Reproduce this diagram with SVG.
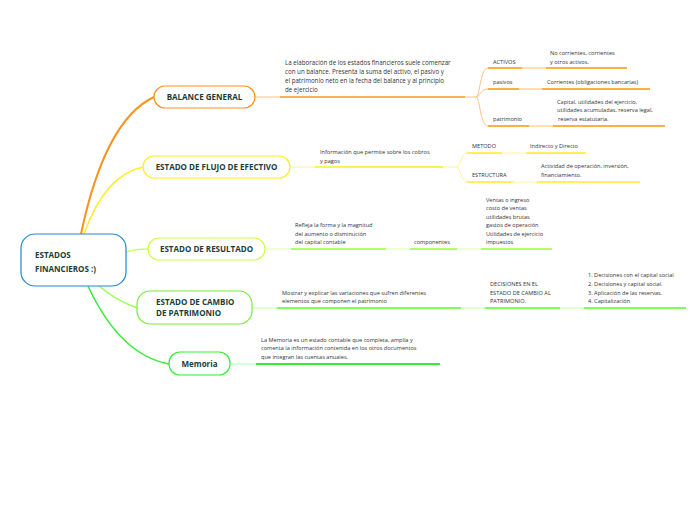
<svg xmlns="http://www.w3.org/2000/svg" width="697" height="520" viewBox="0 0 697 520">
<style>
.n{font-family:"Open Sans","Noto Sans",sans-serif;font-weight:bold;font-size:8px;fill:#1a3d3a}
.t{font-family:"Open Sans","Noto Sans",sans-serif;font-size:5.6px;fill:#333}
.c{fill:none}
.box{fill:#fff;stroke-width:1.2}
</style>
<rect width="697" height="520" fill="#fff"/>
<g id="connectors" class="c">
<path d="M81 234 Q105 120 154 97" stroke="#f7941d" stroke-width="2"/>
<path d="M84 234 Q105 175 143 167" stroke="#ffee22" stroke-width="1.5"/>
<path d="M126 252 Q135 249 148 249" stroke="#ccff66" stroke-width="1.5"/>
<path d="M98 285 Q115 300 137 308" stroke="#99ff55" stroke-width="1.5"/>
<path d="M88 286 Q120 355 169 364" stroke="#33ee33" stroke-width="1.5"/>
<!-- balance -->
<path d="M255 97 H280" stroke="#ffc080"/>
<path d="M280 97 H465" stroke="#f7941d" stroke-width="1.5"/>
<path d="M465 97 H476 M476 97 C480 97 480 68 488 68 M476 97 C480 97 480 89 488 89 M476 97 C480 97 480 126 488 126" stroke="#ffc080"/>
<path d="M488 68 H522 M546 68 H627 M488 89 H519 M542 89 H650 M488 126 H529 M553 126 H665" stroke="#fbb040" stroke-width="2"/>
<path d="M522 68 H546 M519 89 H542 M529 126 H553" stroke="#ffe0b0" stroke-width="2"/>
<!-- flujo -->
<path d="M290 167 H315" stroke="#fff2a0"/>
<path d="M315 167 H443" stroke="#ffee22" stroke-width="1.5"/>
<path d="M443 167 H456 M456 167 C461 167 461 153 467 153 M456 167 C461 167 461 182 467 182" stroke="#fff2a0"/>
<path d="M467 153 H502 M526 153 H586 M467 182 H513 M537 182 H640" stroke="#ffee22" stroke-width="1.5"/>
<path d="M502 153 H526 M513 182 H537" stroke="#fff8c0" stroke-width="1.5"/>
<!-- resultado -->
<path d="M265 249 H291 M386 249 H410 M457 249 H481" stroke="#e0ffb0"/>
<path d="M291 249 H386 M410 249 H457 M481 249 H552" stroke="#99ff33" stroke-width="1.5"/>
<!-- cambio -->
<path d="M252 308 H277 M461 308 H485 M560 308 H584" stroke="#c0ffa0"/>
<path d="M277 308 H461 M485 308 H560 M584 308 H686" stroke="#55ff22" stroke-width="1.5"/>
<!-- memoria -->
<path d="M230 364 H256" stroke="#b0ffb0"/>
<path d="M256 364 H440" stroke="#33ee33" stroke-width="2"/>
</g>
<g id="central"><rect x="21" y="234" width="105" height="52" rx="14" class="box" stroke="#2288cc"/>
<text class="n" font-size="10" x="35" y="258">ESTADOS</text><text class="n" font-size="10" x="35" y="272">FINANCIEROS :)</text></g>
<g id="balance"><rect x="154" y="86" width="101" height="22" rx="11" class="box" stroke="#f7941d"/><text class="n" x="204.5" y="100" text-anchor="middle">BALANCE GENERAL</text></g>
<g id="flujo"><rect x="143" y="156" width="147" height="22" rx="11" class="box" stroke="#ffee22"/><text class="n" x="216.5" y="170" text-anchor="middle">ESTADO DE FLUJO DE EFECTIVO</text></g>
<g id="resultado"><rect x="148" y="238" width="117" height="22" rx="11" class="box" stroke="#ccff44"/><text class="n" x="206.5" y="252" text-anchor="middle">ESTADO DE RESULTADO</text></g>
<g id="cambio"><rect x="137" y="291" width="115" height="33" rx="13" class="box" stroke="#77ee33"/><text class="n" x="156" y="305">ESTADO DE CAMBIO</text><text class="n" x="156" y="316">DE PATRIMONIO</text></g>
<g id="memoria"><rect x="169" y="352" width="61" height="23" rx="11" class="box" stroke="#33ee33"/><text class="n" x="199.5" y="367" text-anchor="middle">Memoria</text></g>
<g id="texts" class="t">
<text x="285" y="65" font-size="6.2">La elaboración de los estados financieros suele comenzar</text>
<text x="285" y="74" font-size="6.2">con un balance. Presenta la suma del activo, el pasivo y</text>
<text x="285" y="83" font-size="6.2">el patrimonio neto en la fecha del balance y al principio</text>
<text x="285" y="92" font-size="6.2">de ejercicio</text>
<text x="493" y="64">ACTIVOS</text>
<text x="550" y="55">No corrientes, corrientes</text><text x="550" y="64">y otros activos.</text>
<text x="493" y="84">pasivos</text>
<text x="547" y="84">Corrientes (obligaciones bancarias)</text>
<text x="493" y="121">patrimonio</text>
<text x="557" y="104">Capital, utilidades del ejercicio,</text><text x="557" y="112">utilidades acumuladas, reserva legal,</text><text x="558" y="121">reserva estatutaria.</text>
<text x="320" y="154">Información que permite sobre los cobros</text><text x="320" y="163">y pagos</text>
<text x="472" y="148">METODO</text><text x="530" y="148">Indirecto y Directo</text>
<text x="472" y="177">ESTRUCTURA</text>
<text x="541" y="168">Actividad de operación, inversión,</text><text x="541" y="177">financiamiento.</text>
<text x="295" y="227">Refleja la forma y la magnitud</text><text x="295" y="236">del aumento o disminución</text><text x="295" y="244">del capital contable</text>
<text x="414" y="244">componentes</text>
<text x="486" y="202">Ventas o ingreso</text><text x="486" y="210">costo de ventas</text><text x="486" y="219">utilidades brutas</text><text x="486" y="227">gastos de operación</text><text x="486" y="236">Utilidades de ejercicio</text><text x="486" y="244">impuestos</text>
<text x="282" y="295">Mostrar y explicar las variaciones que sufren diferentes</text><text x="282" y="303">elementos que componen el patrimonio</text>
<text x="490" y="286">DECISIONES EN EL</text><text x="490" y="295">ESTADO DE CAMBIO AL</text><text x="490" y="303">PATRIMONIO.</text>
<text x="588" y="277">1. Decisiones con el capital social</text><text x="588" y="286">2. Decisiones y capital social.</text><text x="588" y="295">3. Aplicación de las reservas.</text><text x="588" y="303">4. Capitalización</text>
<text x="261" y="342">La Memoria es un estado contable que completa, amplía y</text><text x="261" y="350">comenta la información contenida en los otros documentos</text><text x="261" y="359">que integran las cuentas anuales.</text>
</g>
</svg>
